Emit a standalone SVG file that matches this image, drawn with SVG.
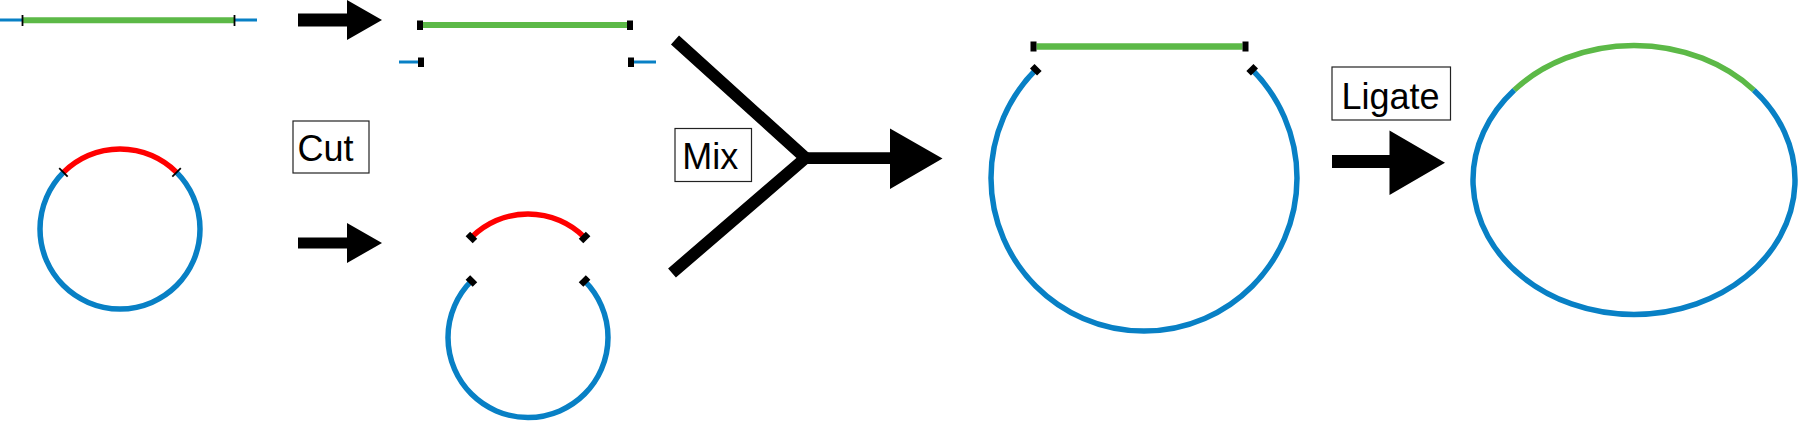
<svg xmlns="http://www.w3.org/2000/svg" width="1800" height="423" viewBox="0 0 1800 423">
<defs>
<style>
.blue{fill:none;stroke:#0880C5;}
.green{fill:none;stroke:#5CB947;}
.red{fill:none;stroke:#FF0000;}
.thin{stroke-width:3;}
.thick{stroke-width:6;}
.ring{stroke-width:5.5;}
.tick{stroke:#000;stroke-width:1.8;fill:none;}
.cap{fill:#000;}
.box{fill:#fff;stroke:#222;stroke-width:1.2;}
.lbl{font-family:"Liberation Sans",Arial,Helvetica,sans-serif;font-size:36px;fill:#000;}
.arrow{fill:#000;stroke:none;}
</style>
<rect id="capA" class="cap" x="-5" y="-3.2" width="10" height="6.4"/>
</defs>
<rect width="1800" height="423" fill="#fff"/>

<g id="linear-dna">
<line class="blue thin" x1="0" y1="20" x2="257" y2="20"/>
<line class="green thick" x1="22.5" y1="20.3" x2="234.5" y2="20.3"/>
<line class="tick" x1="22.5" y1="15" x2="22.5" y2="26"/>
<line class="tick" x1="234.5" y1="15" x2="234.5" y2="26"/>
</g>

<g id="plasmid">
<path class="blue ring" d="M176.57,172.43 A80,80 0 1 1 63.43,172.43"/>
<path class="red ring" d="M63.43,172.43 A80,80 0 0 1 176.57,172.43"/>
<line class="tick" x1="67.67" y1="176.67" x2="59.19" y2="168.19"/>
<line class="tick" x1="172.33" y1="176.67" x2="180.81" y2="168.19"/>
</g>

<g id="cut-insert">
<line class="green thick" x1="423" y1="25" x2="627" y2="25"/>
<rect class="cap" x="417" y="20.5" width="6" height="9.5"/>
<rect class="cap" x="627" y="20.5" width="6" height="9.5"/>
<line class="blue thin" x1="399" y1="62" x2="418" y2="62"/>
<rect class="cap" x="418" y="57.5" width="6" height="9.5"/>
<line class="blue thin" x1="634" y1="62" x2="656" y2="62"/>
<rect class="cap" x="628" y="57.5" width="6" height="9.5"/>
</g>

<g id="cut-plasmid">
<path class="red ring" d="M471.43,237.43 A80,80 0 0 1 584.57,237.43"/>
<path class="blue ring" d="M584.57,280.93 A80,80 0 1 1 471.43,280.93"/>
<use href="#capA" transform="translate(471.43,237.43) rotate(45)"/>
<use href="#capA" transform="translate(584.57,237.43) rotate(-45)"/>
<use href="#capA" transform="translate(471.43,280.93) rotate(45)"/>
<use href="#capA" transform="translate(584.57,280.93) rotate(-45)"/>
</g>

<g id="mixed">
<line class="green thick" x1="1036.5" y1="46.5" x2="1242.5" y2="46.5" style="stroke-width:6.5"/>
<rect class="cap" x="1030.5" y="41.5" width="6" height="10"/>
<rect class="cap" x="1242.5" y="41.5" width="6" height="10"/>
<path class="blue ring" d="M1252.19,69.81 A153,153 0 1 1 1035.81,69.81"/>
<use href="#capA" transform="translate(1035.81,69.81) rotate(45)"/>
<use href="#capA" transform="translate(1252.19,69.81) rotate(-45)"/>
</g>

<g id="ligated">
<path class="blue ring" d="M1753.7,90 A161,134.5 0 1 1 1514.3,90"/>
<path class="green ring" d="M1514.3,90 A161,134.5 0 0 1 1753.7,90"/>
</g>

<g id="label-cut">
<rect class="box" x="293" y="121" width="76" height="52"/>
<text class="lbl" x="297.5" y="161">Cut</text>
</g>
<g id="label-mix">
<rect class="box" x="675" y="128.5" width="76.5" height="53"/>
<text class="lbl" x="682.3" y="169.3">Mix</text>
</g>
<g id="label-ligate">
<rect class="box" x="1332" y="67" width="118.5" height="53"/>
<text class="lbl" x="1341.4" y="109">Ligate</text>
</g>

<g id="connectors">
<polygon class="arrow" points="298,13.5 347,13.5 347,0 382,20 347,40 347,26.5 298,26.5"/>
<polygon class="arrow" points="298,237.5 347,237.5 347,223 382,243 347,263 347,248.5 298,248.5"/>
<polyline points="675,40 805.5,158 672,273" fill="none" stroke="#000" stroke-width="12" stroke-linejoin="miter" stroke-miterlimit="10"/>
<polygon class="arrow" points="805,152.3 890,152.3 890,128.5 942.5,158.5 890,189 890,164 805,164"/>
<polygon class="arrow" points="1332,155 1389.5,155 1389.5,130.5 1445,162.8 1389.5,195 1389.5,168 1332,168"/>
</g>
</svg>
